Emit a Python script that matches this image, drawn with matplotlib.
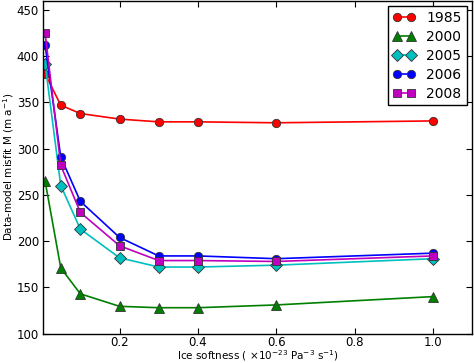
import matplotlib
matplotlib.use("Agg")
import matplotlib.pyplot as plt

x = [0.01, 0.05, 0.1, 0.2, 0.3, 0.4, 0.6, 1.0]
years = ["1985", "2000", "2005", "2006", "2008"]
m1985 = [381, 347, 338, 332, 329, 329, 328, 330]
m2000 = [265, 171, 143, 129.5, 128, 128, 131, 140]
m2005 = [392, 260, 213, 182, 172, 172, 174, 181]
m2006 = [412, 291, 243, 204, 184, 184, 181, 187]
m2008 = [425, 282, 231, 195, 179, 179, 178, 184]
series = [m1985, m2000, m2005, m2006, m2008]
colors = ["#ff0000", "#007f00", "#00bfbf", "#0000ff", "#bf00bf"]
markers = ["o", "^", "D", "o", "s"]
msizes = [6, 7, 6, 6, 6]

fig = plt.figure(figsize=(4.74, 3.63), dpi=100)
ax = fig.add_axes([0.091, 0.081, 0.905, 0.917])

for vals, lab, c, mk, ms in zip(series, years, colors, markers, msizes):
    ax.plot(x, vals, color=c, marker=mk, markersize=ms, linewidth=1.2,
            markeredgecolor="#333333", markeredgewidth=0.6, label=lab)

ax.set_xlim(0.005, 1.1)
ax.set_ylim(100, 460)
ax.set_xticks([0.2, 0.4, 0.6, 0.8, 1.0])
ax.set_yticks([100, 150, 200, 250, 300, 350, 400, 450])
ax.tick_params(direction="in", top=True, right=True, length=4, labelsize=8.5, pad=3)
ax.tick_params(axis="x", pad=2)
for s in ax.spines.values():
    s.set_linewidth(1.0)
ax.set_xlabel(r"Ice softness ( $\times10^{-23}$ Pa$^{-3}$ s$^{-1}$)", fontsize=7.5, labelpad=0)
ax.set_ylabel(r"Data-model misfit M (m a$^{-1}$)", fontsize=7.5, labelpad=0)
ax.xaxis.set_label_coords(0.5, -0.045)
ax.yaxis.set_label_coords(-0.063, 0.5)

leg = ax.legend(loc="upper right", numpoints=2, fontsize=10, handlelength=1.6,
                fancybox=False, edgecolor="black", framealpha=1,
                borderaxespad=0.4, labelspacing=0.35, borderpad=0.35)
leg.get_frame().set_linewidth(1.0)

fig.savefig("out.png", dpi=100)
